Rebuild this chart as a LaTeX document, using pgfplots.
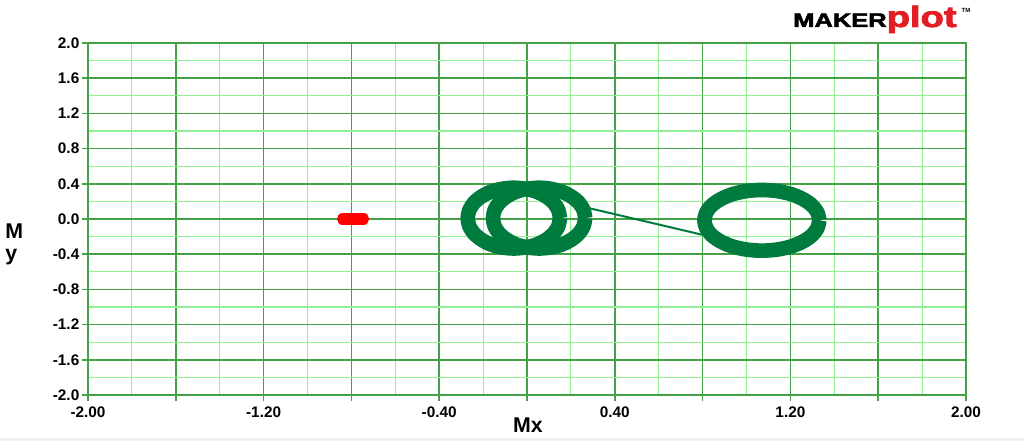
\documentclass[border=0pt]{standalone}
\usepackage{pgfplots}
\pgfplotsset{compat=1.18}
\usepackage{fontspec}
\setmainfont{Liberation Sans}
\newfontfamily\logofont{Liberation Sans}[BoldFeatures={FakeBold=2.5}]
\usepackage{graphicx}

\definecolor{gmaj}{RGB}{70,160,70}
\definecolor{gmin}{RGB}{145,240,145}
\definecolor{trace}{RGB}{0,123,62}
\definecolor{logored}{RGB}{225,30,36}

\begin{document}
\begin{tikzpicture}
% 1 px of the reference = 0.75pt
\useasboundingbox (-66pt,-34.5pt) rectangle (702pt,296.25pt);
\fill[black!6] (-66pt,-34.5pt) rectangle (702pt,-32pt);

\begin{axis}[
    at={(0,0)}, anchor=south west,
    scale only axis,
    width=658.5pt, height=264pt,
    xmin=-2, xmax=2, ymin=-2, ymax=2,
    xtick={-2,-1.6,-1.2,-0.8,-0.4,0,0.4,0.8,1.2,1.6,2},
    xticklabels={-2.00,,-1.20,,-0.40,,0.40,,1.20,,2.00},
    ytick={-2,-1.6,-1.2,-0.8,-0.4,0,0.4,0.8,1.2,1.6,2},
    yticklabels={-2.0,-1.6,-1.2,-0.8,-0.4,0.0,0.4,0.8,1.2,1.6,2.0},
    minor x tick num=1, minor y tick num=1,
    grid=both,
    major grid style={draw=gmaj, line width=1.1pt},
    minor grid style={draw=gmin, line width=0.8pt},
    axis line style={draw=gmaj, line width=1.1pt},
    tick align=outside,
    xtick pos=left, ytick pos=left,
    major tick length=4.5pt, minor tick length=0pt,
    major tick style={draw=gmaj, line width=1.1pt},
    tick label style={font=\fontsize{11.5}{13}\selectfont\bfseries},
    xticklabel style={yshift=-0.5pt},
    yticklabel style={xshift=1.5pt},
]

% left pair of orbits
\addplot[draw=trace, line width=11pt, line join=round, smooth] coordinates {
    (0.150,0.010) (0.143,0.099) (0.122,0.183) (0.088,0.254) (0.045,0.309) (-0.006,0.343)
    (-0.060,0.355) (-0.114,0.343) (-0.165,0.309) (-0.208,0.254) (-0.242,0.183) (-0.263,0.099)
    (-0.270,0.010) (-0.263,-0.079) (-0.242,-0.163) (-0.208,-0.234) (-0.165,-0.289) (-0.114,-0.323)
    (-0.060,-0.335) (-0.006,-0.323) (0.045,-0.289) (0.088,-0.234) (0.122,-0.163) (0.143,-0.079)
    (0.150,0.010)
};
\addplot[draw=trace, line width=11pt, line join=round, smooth] coordinates {
    (0.265,0.010) (0.258,0.099) (0.237,0.183) (0.203,0.254) (0.160,0.309) (0.109,0.343)
    (0.055,0.355) (0.001,0.343) (-0.050,0.309) (-0.093,0.254) (-0.127,0.183) (-0.148,0.099)
    (-0.155,0.010) (-0.148,-0.079) (-0.127,-0.163) (-0.093,-0.234) (-0.050,-0.289) (0.001,-0.323)
    (0.055,-0.335) (0.109,-0.323) (0.160,-0.289) (0.203,-0.234) (0.237,-0.163) (0.258,-0.079)
    (0.265,0.010)
};
% right orbit
\addplot[draw=trace, line width=11pt, line join=round, smooth] coordinates {
    (1.332,-0.015) (1.323,0.074) (1.297,0.158) (1.255,0.229) (1.201,0.284) (1.138,0.318)
    (1.070,0.330) (1.002,0.318) (0.939,0.284) (0.885,0.229) (0.843,0.158) (0.817,0.074)
    (0.808,-0.015) (0.817,-0.104) (0.843,-0.188) (0.885,-0.259) (0.939,-0.314) (1.002,-0.348)
    (1.070,-0.360) (1.138,-0.348) (1.201,-0.314) (1.255,-0.259) (1.297,-0.188) (1.323,-0.104)
    (1.332,-0.015)
};
% transfer
\addplot[draw=trace, line width=1.5pt] coordinates {(0.28,0.125) (0.80,-0.18)};
% red body
\addplot[draw=red, line width=8.5pt, line cap=round] coordinates {(-0.840,0.0) (-0.745,0.0)};
\end{axis}

\node[anchor=base, inner sep=0pt, font=\fontsize{16}{18}\selectfont\bfseries] at (330pt,-28.5pt) {Mx};
\node[anchor=west, inner sep=0pt, align=left, font=\fontsize{16}{16}\selectfont\bfseries] at (-62.25pt,113pt) {M\\y};

% logo
\node[anchor=base west, inner sep=0pt] at (528.75pt,276pt)
  {\logofont\bfseries\scalebox{1.3}[1]{\fontsize{14.7}{15}\selectfont MAKER\textcolor{logored}{\fontsize{22}{22}\selectfont plot}}};
\node[anchor=base west, inner sep=0pt, font=\fontsize{4.5}{5}\selectfont\bfseries] at (655pt,287pt) {TM};
\end{tikzpicture}
\end{document}
